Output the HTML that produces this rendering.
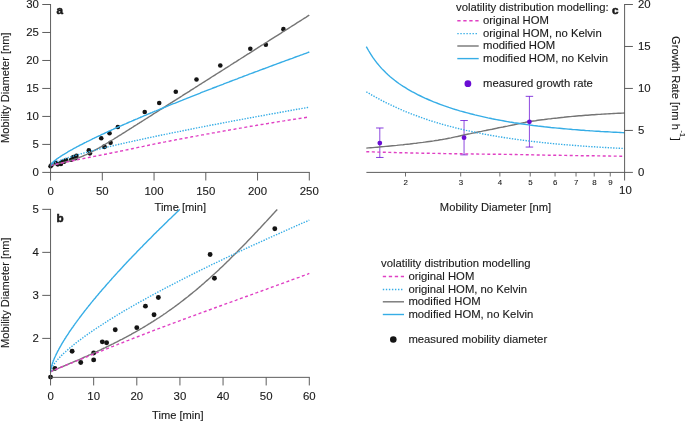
<!DOCTYPE html>
<html lang="en"><head><meta charset="utf-8"><title>Figure</title>
<style>html,body{margin:0;padding:0;background:#fff}svg{display:block}</style></head>
<body>
<svg width="685" height="421" viewBox="0 0 685 421">
<style>text{font-family:"Liberation Sans",sans-serif;fill:#1a1a1a}.t{font-size:11.4px;stroke:#1a1a1a;stroke-width:0.12px}.a{font-size:11.12px;stroke:#1a1a1a;stroke-width:0.12px}.l{font-size:11.3px;stroke:#1a1a1a;stroke-width:0.12px}.s{font-size:7.9px;stroke:#1a1a1a;stroke-width:0.1px}.b{font-size:11.7px;font-weight:bold;stroke:#1a1a1a;stroke-width:0.55px}</style>
<rect width="685" height="421" fill="#fff"/>
<circle cx="50.55" cy="166.24" r="2.3" fill="#141414"/>
<circle cx="51.58" cy="165.12" r="2.3" fill="#141414"/>
<circle cx="55.72" cy="162.89" r="2.3" fill="#141414"/>
<circle cx="57.79" cy="164.34" r="2.3" fill="#141414"/>
<circle cx="60.90" cy="163.11" r="2.3" fill="#141414"/>
<circle cx="60.90" cy="164.00" r="2.3" fill="#141414"/>
<circle cx="62.97" cy="161.65" r="2.3" fill="#141414"/>
<circle cx="64.00" cy="161.77" r="2.3" fill="#141414"/>
<circle cx="66.07" cy="160.09" r="2.3" fill="#141414"/>
<circle cx="71.25" cy="159.81" r="2.3" fill="#141414"/>
<circle cx="73.32" cy="157.01" r="2.3" fill="#141414"/>
<circle cx="75.39" cy="158.13" r="2.3" fill="#141414"/>
<circle cx="76.42" cy="155.89" r="2.3" fill="#141414"/>
<circle cx="88.84" cy="150.29" r="2.3" fill="#141414"/>
<circle cx="89.88" cy="153.37" r="2.3" fill="#141414"/>
<circle cx="104.37" cy="146.94" r="2.3" fill="#141414"/>
<circle cx="101.26" cy="138.26" r="2.3" fill="#141414"/>
<circle cx="109.54" cy="133.22" r="2.3" fill="#141414"/>
<circle cx="110.58" cy="142.74" r="2.3" fill="#141414"/>
<circle cx="104.37" cy="146.66" r="2.3" fill="#141414"/>
<circle cx="117.82" cy="127.07" r="2.3" fill="#141414"/>
<circle cx="144.73" cy="111.96" r="2.3" fill="#141414"/>
<circle cx="159.22" cy="103.00" r="2.3" fill="#141414"/>
<circle cx="175.78" cy="91.81" r="2.3" fill="#141414"/>
<circle cx="196.49" cy="79.50" r="2.3" fill="#141414"/>
<circle cx="220.29" cy="65.50" r="2.3" fill="#141414"/>
<circle cx="250.31" cy="48.71" r="2.3" fill="#141414"/>
<circle cx="265.83" cy="44.80" r="2.3" fill="#141414"/>
<circle cx="283.42" cy="29.13" r="2.3" fill="#141414"/>
<path d="M50.5,165.5 L50.6,165.5 L50.6,165.5 L50.6,165.5 L50.6,165.5 L50.6,165.5 L50.7,165.5 L50.7,165.5 L50.7,165.5 L50.8,165.5 L50.8,165.5 L50.9,165.4 L51.0,165.4 L51.0,165.4 L51.1,165.4 L51.2,165.4 L51.3,165.4 L51.4,165.3 L51.5,165.3 L51.6,165.3 L51.7,165.3 L51.8,165.2 L52.0,165.2 L52.1,165.2 L52.2,165.1 L52.4,165.1 L52.5,165.1 L52.7,165.0 L52.8,165.0 L53.0,165.0 L53.2,164.9 L53.3,164.9 L53.5,164.9 L53.7,164.8 L53.9,164.8 L54.1,164.7 L54.3,164.7 L54.5,164.6 L54.7,164.6 L55.0,164.5 L55.2,164.5 L55.4,164.4 L55.7,164.4 L55.9,164.3 L56.2,164.2 L56.4,164.2 L56.7,164.1 L56.9,164.1 L57.2,164.0 L57.5,163.9 L57.8,163.9 L58.1,163.8 L58.4,163.7 L58.7,163.6 L59.0,163.6 L59.3,163.5 L59.6,163.4 L60.0,163.3 L60.3,163.3 L60.6,163.2 L61.0,163.1 L61.3,163.0 L61.7,162.9 L62.0,162.8 L62.4,162.7 L62.8,162.6 L63.2,162.5 L63.5,162.4 L63.9,162.3 L64.3,162.2 L64.7,162.1 L65.1,162.0 L65.6,161.9 L66.0,161.8 L66.4,161.7 L66.8,161.6 L67.3,161.4 L67.7,161.3 L68.2,161.2 L68.6,161.1 L69.1,160.9 L69.5,160.8 L70.0,160.6 L70.5,160.5 L71.0,160.4 L71.5,160.2 L72.0,160.0 L72.5,159.9 L73.0,159.7 L73.5,159.6 L74.0,159.4 L74.5,159.2 L75.0,159.0 L75.6,158.9 L76.1,158.7 L76.7,158.5 L77.2,158.3 L77.8,158.1 L78.3,157.9 L78.9,157.6 L79.5,157.4 L80.1,157.2 L80.7,157.0 L81.3,156.7 L81.9,156.5 L82.5,156.2 L83.1,156.0 L83.7,155.7 L84.3,155.4 L84.9,155.1 L85.6,154.9 L86.2,154.6 L86.9,154.3 L87.5,154.0 L88.2,153.6 L88.8,153.3 L89.5,153.0 L90.2,152.7 L90.8,152.3 L91.5,152.0 L92.2,151.6 L92.9,151.2 L93.6,150.9 L94.3,150.5 L95.1,150.1 L95.8,149.7 L96.5,149.3 L97.2,148.9 L98.0,148.5 L98.7,148.1 L99.5,147.6 L100.2,147.2 L101.0,146.8 L101.7,146.3 L102.5,145.9 L103.3,145.4 L104.1,144.9 L104.9,144.5 L105.7,144.0 L106.5,143.5 L107.3,143.0 L108.1,142.5 L108.9,142.0 L109.7,141.5 L110.6,141.0 L111.4,140.5 L112.2,140.0 L113.1,139.5 L113.9,139.0 L114.8,138.4 L115.7,137.9 L116.5,137.3 L117.4,136.8 L118.3,136.2 L119.2,135.7 L120.1,135.1 L121.0,134.6 L121.9,134.0 L122.8,133.4 L123.7,132.8 L124.6,132.3 L125.6,131.7 L126.5,131.1 L127.4,130.5 L128.4,129.9 L129.3,129.3 L130.3,128.7 L131.3,128.1 L132.2,127.5 L133.2,126.9 L134.2,126.2 L135.2,125.6 L136.2,125.0 L137.2,124.4 L138.2,123.7 L139.2,123.1 L140.2,122.4 L141.2,121.8 L142.3,121.1 L143.3,120.5 L144.3,119.8 L145.4,119.2 L146.4,118.5 L147.5,117.8 L148.5,117.2 L149.6,116.5 L150.7,115.8 L151.8,115.1 L152.8,114.4 L153.9,113.7 L155.0,113.0 L156.1,112.3 L157.2,111.6 L158.4,110.9 L159.5,110.2 L160.6,109.5 L161.7,108.8 L162.9,108.1 L164.0,107.3 L165.2,106.6 L166.3,105.9 L167.5,105.1 L168.6,104.4 L169.8,103.7 L171.0,102.9 L172.2,102.2 L173.4,101.4 L174.6,100.6 L175.8,99.9 L177.0,99.1 L178.2,98.3 L179.4,97.6 L180.6,96.8 L181.9,96.0 L183.1,95.2 L184.3,94.4 L185.6,93.6 L186.8,92.9 L188.1,92.1 L189.4,91.3 L190.6,90.4 L191.9,89.6 L193.2,88.8 L194.5,88.0 L195.8,87.2 L197.1,86.4 L198.4,85.5 L199.7,84.7 L201.0,83.9 L202.3,83.0 L203.7,82.2 L205.0,81.3 L206.3,80.5 L207.7,79.6 L209.0,78.8 L210.4,77.9 L211.7,77.0 L213.1,76.2 L214.5,75.3 L215.9,74.4 L217.3,73.5 L218.7,72.7 L220.0,71.8 L221.5,70.9 L222.9,70.0 L224.3,69.1 L225.7,68.2 L227.1,67.3 L228.6,66.4 L230.0,65.5 L231.4,64.5 L232.9,63.6 L234.3,62.7 L235.8,61.8 L237.3,60.8 L238.7,59.9 L240.2,59.0 L241.7,58.0 L243.2,57.1 L244.7,56.1 L246.2,55.2 L247.7,54.2 L249.2,53.3 L250.7,52.3 L252.3,51.3 L253.8,50.4 L255.3,49.4 L256.9,48.4 L258.4,47.4 L260.0,46.4 L261.5,45.4 L263.1,44.5 L264.7,43.5 L266.3,42.5 L267.8,41.5 L269.4,40.4 L271.0,39.4 L272.6,38.4 L274.2,37.4 L275.8,36.4 L277.5,35.3 L279.1,34.3 L280.7,33.3 L282.3,32.2 L284.0,31.2 L285.6,30.2 L287.3,29.1 L288.9,28.1 L290.6,27.0 L292.3,25.9 L294.0,24.9 L295.6,23.8 L297.3,22.7 L299.0,21.7 L300.7,20.6 L302.4,19.5 L304.1,18.4 L305.9,17.3 L307.6,16.2 L309.3,15.1" stroke="#757575" stroke-width="1.4" fill="none"/>
<path d="M50.5,165.5 L50.6,165.5 L50.6,165.5 L50.6,165.5 L50.6,165.5 L50.6,165.5 L50.7,165.5 L50.7,165.5 L50.7,165.5 L50.8,165.5 L50.8,165.5 L50.9,165.4 L51.0,165.4 L51.0,165.4 L51.1,165.4 L51.2,165.4 L51.3,165.4 L51.4,165.3 L51.5,165.3 L51.6,165.3 L51.7,165.3 L51.8,165.2 L52.0,165.2 L52.1,165.2 L52.2,165.1 L52.4,165.1 L52.5,165.1 L52.7,165.0 L52.8,165.0 L53.0,165.0 L53.2,164.9 L53.3,164.9 L53.5,164.9 L53.7,164.8 L53.9,164.8 L54.1,164.7 L54.3,164.7 L54.5,164.6 L54.7,164.6 L55.0,164.5 L55.2,164.5 L55.4,164.4 L55.7,164.4 L55.9,164.3 L56.2,164.3 L56.4,164.2 L56.7,164.2 L56.9,164.1 L57.2,164.0 L57.5,164.0 L57.8,163.9 L58.1,163.9 L58.4,163.8 L58.7,163.7 L59.0,163.7 L59.3,163.6 L59.6,163.5 L60.0,163.4 L60.3,163.4 L60.6,163.3 L61.0,163.2 L61.3,163.1 L61.7,163.1 L62.0,163.0 L62.4,162.9 L62.8,162.8 L63.2,162.7 L63.5,162.7 L63.9,162.6 L64.3,162.5 L64.7,162.4 L65.1,162.3 L65.6,162.2 L66.0,162.1 L66.4,162.1 L66.8,162.0 L67.3,161.9 L67.7,161.8 L68.2,161.7 L68.6,161.6 L69.1,161.5 L69.5,161.4 L70.0,161.3 L70.5,161.2 L71.0,161.1 L71.5,161.0 L72.0,160.9 L72.5,160.8 L73.0,160.7 L73.5,160.6 L74.0,160.5 L74.5,160.3 L75.0,160.2 L75.6,160.1 L76.1,160.0 L76.7,159.9 L77.2,159.8 L77.8,159.7 L78.3,159.6 L78.9,159.4 L79.5,159.3 L80.1,159.2 L80.7,159.1 L81.3,159.0 L81.9,158.8 L82.5,158.7 L83.1,158.6 L83.7,158.5 L84.3,158.4 L84.9,158.2 L85.6,158.1 L86.2,158.0 L86.9,157.9 L87.5,157.7 L88.2,157.6 L88.8,157.5 L89.5,157.3 L90.2,157.2 L90.8,157.1 L91.5,156.9 L92.2,156.8 L92.9,156.7 L93.6,156.5 L94.3,156.4 L95.1,156.2 L95.8,156.1 L96.5,156.0 L97.2,155.8 L98.0,155.7 L98.7,155.5 L99.5,155.4 L100.2,155.2 L101.0,155.1 L101.7,154.9 L102.5,154.8 L103.3,154.6 L104.1,154.5 L104.9,154.3 L105.7,154.2 L106.5,154.0 L107.3,153.8 L108.1,153.7 L108.9,153.5 L109.7,153.3 L110.6,153.2 L111.4,153.0 L112.2,152.8 L113.1,152.7 L113.9,152.5 L114.8,152.3 L115.7,152.1 L116.5,152.0 L117.4,151.8 L118.3,151.6 L119.2,151.4 L120.1,151.2 L121.0,151.0 L121.9,150.9 L122.8,150.7 L123.7,150.5 L124.6,150.3 L125.6,150.1 L126.5,149.9 L127.4,149.7 L128.4,149.5 L129.3,149.3 L130.3,149.1 L131.3,148.9 L132.2,148.7 L133.2,148.5 L134.2,148.3 L135.2,148.1 L136.2,147.9 L137.2,147.6 L138.2,147.4 L139.2,147.2 L140.2,147.0 L141.2,146.8 L142.3,146.6 L143.3,146.4 L144.3,146.1 L145.4,145.9 L146.4,145.7 L147.5,145.5 L148.5,145.3 L149.6,145.0 L150.7,144.8 L151.8,144.6 L152.8,144.4 L153.9,144.1 L155.0,143.9 L156.1,143.7 L157.2,143.5 L158.4,143.2 L159.5,143.0 L160.6,142.8 L161.7,142.6 L162.9,142.3 L164.0,142.1 L165.2,141.9 L166.3,141.6 L167.5,141.4 L168.6,141.2 L169.8,141.0 L171.0,140.7 L172.2,140.5 L173.4,140.3 L174.6,140.1 L175.8,139.8 L177.0,139.6 L178.2,139.4 L179.4,139.2 L180.6,138.9 L181.9,138.7 L183.1,138.5 L184.3,138.2 L185.6,138.0 L186.8,137.8 L188.1,137.5 L189.4,137.3 L190.6,137.1 L191.9,136.8 L193.2,136.6 L194.5,136.3 L195.8,136.1 L197.1,135.9 L198.4,135.6 L199.7,135.4 L201.0,135.1 L202.3,134.9 L203.7,134.7 L205.0,134.4 L206.3,134.2 L207.7,133.9 L209.0,133.7 L210.4,133.4 L211.7,133.2 L213.1,132.9 L214.5,132.7 L215.9,132.4 L217.3,132.2 L218.7,131.9 L220.0,131.7 L221.5,131.4 L222.9,131.2 L224.3,130.9 L225.7,130.7 L227.1,130.4 L228.6,130.2 L230.0,129.9 L231.4,129.7 L232.9,129.4 L234.3,129.2 L235.8,128.9 L237.3,128.6 L238.7,128.4 L240.2,128.1 L241.7,127.9 L243.2,127.6 L244.7,127.4 L246.2,127.1 L247.7,126.8 L249.2,126.6 L250.7,126.3 L252.3,126.1 L253.8,125.8 L255.3,125.6 L256.9,125.3 L258.4,125.0 L260.0,124.8 L261.5,124.5 L263.1,124.3 L264.7,124.0 L266.3,123.7 L267.8,123.5 L269.4,123.2 L271.0,123.0 L272.6,122.7 L274.2,122.4 L275.8,122.2 L277.5,121.9 L279.1,121.6 L280.7,121.4 L282.3,121.1 L284.0,120.9 L285.6,120.6 L287.3,120.3 L288.9,120.1 L290.6,119.8 L292.3,119.6 L294.0,119.3 L295.6,119.1 L297.3,118.8 L299.0,118.5 L300.7,118.3 L302.4,118.0 L304.1,117.8 L305.9,117.5 L307.6,117.2 L309.3,117.0" stroke="#e040c4" stroke-width="1.4" stroke-dasharray="3 2.5" fill="none"/>
<path d="M50.5,165.5 L50.6,165.5 L50.6,165.4 L50.6,165.4 L50.6,165.4 L50.6,165.3 L50.7,165.3 L50.7,165.2 L50.7,165.2 L50.8,165.1 L50.8,165.0 L50.9,165.0 L51.0,164.9 L51.0,164.8 L51.1,164.8 L51.2,164.7 L51.3,164.6 L51.4,164.6 L51.5,164.5 L51.6,164.4 L51.7,164.3 L51.8,164.2 L52.0,164.2 L52.1,164.1 L52.2,164.0 L52.4,163.9 L52.5,163.8 L52.7,163.7 L52.8,163.6 L53.0,163.5 L53.2,163.4 L53.3,163.4 L53.5,163.3 L53.7,163.2 L53.9,163.1 L54.1,163.0 L54.3,162.9 L54.5,162.8 L54.7,162.7 L55.0,162.6 L55.2,162.4 L55.4,162.3 L55.7,162.2 L55.9,162.1 L56.2,162.0 L56.4,161.9 L56.7,161.8 L56.9,161.7 L57.2,161.6 L57.5,161.4 L57.8,161.3 L58.1,161.2 L58.4,161.1 L58.7,161.0 L59.0,160.9 L59.3,160.7 L59.6,160.6 L60.0,160.5 L60.3,160.4 L60.6,160.2 L61.0,160.1 L61.3,160.0 L61.7,159.8 L62.0,159.7 L62.4,159.6 L62.8,159.5 L63.2,159.3 L63.5,159.2 L63.9,159.1 L64.3,158.9 L64.7,158.8 L65.1,158.6 L65.6,158.5 L66.0,158.4 L66.4,158.2 L66.8,158.1 L67.3,157.9 L67.7,157.8 L68.2,157.7 L68.6,157.5 L69.1,157.4 L69.5,157.2 L70.0,157.1 L70.5,156.9 L71.0,156.8 L71.5,156.6 L72.0,156.5 L72.5,156.3 L73.0,156.2 L73.5,156.0 L74.0,155.9 L74.5,155.7 L75.0,155.6 L75.6,155.4 L76.1,155.2 L76.7,155.1 L77.2,154.9 L77.8,154.8 L78.3,154.6 L78.9,154.4 L79.5,154.3 L80.1,154.1 L80.7,153.9 L81.3,153.8 L81.9,153.6 L82.5,153.4 L83.1,153.3 L83.7,153.1 L84.3,152.9 L84.9,152.8 L85.6,152.6 L86.2,152.4 L86.9,152.3 L87.5,152.1 L88.2,151.9 L88.8,151.7 L89.5,151.6 L90.2,151.4 L90.8,151.2 L91.5,151.0 L92.2,150.8 L92.9,150.7 L93.6,150.5 L94.3,150.3 L95.1,150.1 L95.8,149.9 L96.5,149.8 L97.2,149.6 L98.0,149.4 L98.7,149.2 L99.5,149.0 L100.2,148.8 L101.0,148.6 L101.7,148.4 L102.5,148.3 L103.3,148.1 L104.1,147.9 L104.9,147.7 L105.7,147.5 L106.5,147.3 L107.3,147.1 L108.1,146.9 L108.9,146.7 L109.7,146.5 L110.6,146.3 L111.4,146.1 L112.2,145.9 L113.1,145.7 L113.9,145.5 L114.8,145.3 L115.7,145.1 L116.5,144.9 L117.4,144.7 L118.3,144.5 L119.2,144.3 L120.1,144.1 L121.0,143.9 L121.9,143.7 L122.8,143.5 L123.7,143.3 L124.6,143.1 L125.6,142.8 L126.5,142.6 L127.4,142.4 L128.4,142.2 L129.3,142.0 L130.3,141.8 L131.3,141.6 L132.2,141.4 L133.2,141.1 L134.2,140.9 L135.2,140.7 L136.2,140.5 L137.2,140.3 L138.2,140.0 L139.2,139.8 L140.2,139.6 L141.2,139.4 L142.3,139.2 L143.3,138.9 L144.3,138.7 L145.4,138.5 L146.4,138.3 L147.5,138.0 L148.5,137.8 L149.6,137.6 L150.7,137.4 L151.8,137.1 L152.8,136.9 L153.9,136.7 L155.0,136.4 L156.1,136.2 L157.2,136.0 L158.4,135.7 L159.5,135.5 L160.6,135.3 L161.7,135.0 L162.9,134.8 L164.0,134.6 L165.2,134.3 L166.3,134.1 L167.5,133.9 L168.6,133.6 L169.8,133.4 L171.0,133.1 L172.2,132.9 L173.4,132.6 L174.6,132.4 L175.8,132.2 L177.0,131.9 L178.2,131.7 L179.4,131.4 L180.6,131.2 L181.9,130.9 L183.1,130.7 L184.3,130.4 L185.6,130.2 L186.8,129.9 L188.1,129.7 L189.4,129.4 L190.6,129.2 L191.9,128.9 L193.2,128.7 L194.5,128.4 L195.8,128.2 L197.1,127.9 L198.4,127.7 L199.7,127.4 L201.0,127.2 L202.3,126.9 L203.7,126.6 L205.0,126.4 L206.3,126.1 L207.7,125.9 L209.0,125.6 L210.4,125.3 L211.7,125.1 L213.1,124.8 L214.5,124.5 L215.9,124.3 L217.3,124.0 L218.7,123.7 L220.0,123.5 L221.5,123.2 L222.9,122.9 L224.3,122.7 L225.7,122.4 L227.1,122.1 L228.6,121.9 L230.0,121.6 L231.4,121.3 L232.9,121.1 L234.3,120.8 L235.8,120.5 L237.3,120.2 L238.7,120.0 L240.2,119.7 L241.7,119.4 L243.2,119.1 L244.7,118.9 L246.2,118.6 L247.7,118.3 L249.2,118.0 L250.7,117.7 L252.3,117.5 L253.8,117.2 L255.3,116.9 L256.9,116.6 L258.4,116.3 L260.0,116.0 L261.5,115.8 L263.1,115.5 L264.7,115.2 L266.3,114.9 L267.8,114.6 L269.4,114.3 L271.0,114.0 L272.6,113.7 L274.2,113.5 L275.8,113.2 L277.5,112.9 L279.1,112.6 L280.7,112.3 L282.3,112.0 L284.0,111.7 L285.6,111.4 L287.3,111.1 L288.9,110.8 L290.6,110.5 L292.3,110.2 L294.0,109.9 L295.6,109.6 L297.3,109.3 L299.0,109.0 L300.7,108.7 L302.4,108.4 L304.1,108.1 L305.9,107.8 L307.6,107.5 L309.3,107.2" stroke="#36ade6" stroke-width="1.4" stroke-dasharray="1.4 1.35" fill="none"/>
<path d="M50.5,165.5 L50.6,165.4 L50.6,165.4 L50.6,165.3 L50.6,165.3 L50.6,165.2 L50.7,165.1 L50.7,165.0 L50.7,164.9 L50.8,164.8 L50.8,164.7 L50.9,164.6 L51.0,164.5 L51.0,164.4 L51.1,164.3 L51.2,164.2 L51.3,164.0 L51.4,163.9 L51.5,163.8 L51.6,163.6 L51.7,163.5 L51.8,163.4 L52.0,163.2 L52.1,163.1 L52.2,162.9 L52.4,162.8 L52.5,162.6 L52.7,162.5 L52.8,162.3 L53.0,162.2 L53.2,162.0 L53.3,161.9 L53.5,161.7 L53.7,161.5 L53.9,161.3 L54.1,161.2 L54.3,161.0 L54.5,160.8 L54.7,160.6 L55.0,160.5 L55.2,160.3 L55.4,160.1 L55.7,159.9 L55.9,159.7 L56.2,159.5 L56.4,159.3 L56.7,159.1 L56.9,158.9 L57.2,158.7 L57.5,158.5 L57.8,158.3 L58.1,158.1 L58.4,157.9 L58.7,157.7 L59.0,157.5 L59.3,157.3 L59.6,157.0 L60.0,156.8 L60.3,156.6 L60.6,156.4 L61.0,156.1 L61.3,155.9 L61.7,155.7 L62.0,155.5 L62.4,155.2 L62.8,155.0 L63.2,154.7 L63.5,154.5 L63.9,154.3 L64.3,154.0 L64.7,153.8 L65.1,153.5 L65.6,153.3 L66.0,153.0 L66.4,152.8 L66.8,152.5 L67.3,152.3 L67.7,152.0 L68.2,151.7 L68.6,151.5 L69.1,151.2 L69.5,150.9 L70.0,150.7 L70.5,150.4 L71.0,150.1 L71.5,149.8 L72.0,149.6 L72.5,149.3 L73.0,149.0 L73.5,148.7 L74.0,148.4 L74.5,148.2 L75.0,147.9 L75.6,147.6 L76.1,147.3 L76.7,147.0 L77.2,146.7 L77.8,146.4 L78.3,146.1 L78.9,145.8 L79.5,145.5 L80.1,145.2 L80.7,144.9 L81.3,144.6 L81.9,144.3 L82.5,144.0 L83.1,143.7 L83.7,143.3 L84.3,143.0 L84.9,142.7 L85.6,142.4 L86.2,142.1 L86.9,141.7 L87.5,141.4 L88.2,141.1 L88.8,140.8 L89.5,140.4 L90.2,140.1 L90.8,139.8 L91.5,139.4 L92.2,139.1 L92.9,138.7 L93.6,138.4 L94.3,138.1 L95.1,137.7 L95.8,137.4 L96.5,137.0 L97.2,136.7 L98.0,136.3 L98.7,136.0 L99.5,135.6 L100.2,135.3 L101.0,134.9 L101.7,134.5 L102.5,134.2 L103.3,133.8 L104.1,133.5 L104.9,133.1 L105.7,132.7 L106.5,132.3 L107.3,132.0 L108.1,131.6 L108.9,131.2 L109.7,130.8 L110.6,130.5 L111.4,130.1 L112.2,129.7 L113.1,129.3 L113.9,128.9 L114.8,128.5 L115.7,128.2 L116.5,127.8 L117.4,127.4 L118.3,127.0 L119.2,126.6 L120.1,126.2 L121.0,125.8 L121.9,125.4 L122.8,125.0 L123.7,124.6 L124.6,124.2 L125.6,123.8 L126.5,123.4 L127.4,123.0 L128.4,122.5 L129.3,122.1 L130.3,121.7 L131.3,121.3 L132.2,120.9 L133.2,120.5 L134.2,120.0 L135.2,119.6 L136.2,119.2 L137.2,118.8 L138.2,118.3 L139.2,117.9 L140.2,117.5 L141.2,117.0 L142.3,116.6 L143.3,116.2 L144.3,115.7 L145.4,115.3 L146.4,114.8 L147.5,114.4 L148.5,113.9 L149.6,113.5 L150.7,113.0 L151.8,112.6 L152.8,112.1 L153.9,111.7 L155.0,111.2 L156.1,110.8 L157.2,110.3 L158.4,109.9 L159.5,109.4 L160.6,108.9 L161.7,108.5 L162.9,108.0 L164.0,107.5 L165.2,107.1 L166.3,106.6 L167.5,106.1 L168.6,105.6 L169.8,105.2 L171.0,104.7 L172.2,104.2 L173.4,103.7 L174.6,103.3 L175.8,102.8 L177.0,102.3 L178.2,101.8 L179.4,101.3 L180.6,100.8 L181.9,100.3 L183.1,99.8 L184.3,99.3 L185.6,98.8 L186.8,98.3 L188.1,97.8 L189.4,97.3 L190.6,96.8 L191.9,96.3 L193.2,95.8 L194.5,95.3 L195.8,94.8 L197.1,94.3 L198.4,93.8 L199.7,93.3 L201.0,92.7 L202.3,92.2 L203.7,91.7 L205.0,91.2 L206.3,90.7 L207.7,90.1 L209.0,89.6 L210.4,89.1 L211.7,88.6 L213.1,88.0 L214.5,87.5 L215.9,87.0 L217.3,86.4 L218.7,85.9 L220.0,85.3 L221.5,84.8 L222.9,84.3 L224.3,83.7 L225.7,83.2 L227.1,82.6 L228.6,82.1 L230.0,81.5 L231.4,81.0 L232.9,80.4 L234.3,79.9 L235.8,79.3 L237.3,78.8 L238.7,78.2 L240.2,77.6 L241.7,77.1 L243.2,76.5 L244.7,75.9 L246.2,75.4 L247.7,74.8 L249.2,74.2 L250.7,73.7 L252.3,73.1 L253.8,72.5 L255.3,71.9 L256.9,71.4 L258.4,70.8 L260.0,70.2 L261.5,69.6 L263.1,69.0 L264.7,68.5 L266.3,67.9 L267.8,67.3 L269.4,66.7 L271.0,66.1 L272.6,65.5 L274.2,64.9 L275.8,64.3 L277.5,63.7 L279.1,63.1 L280.7,62.5 L282.3,61.9 L284.0,61.3 L285.6,60.7 L287.3,60.1 L288.9,59.5 L290.6,58.9 L292.3,58.3 L294.0,57.6 L295.6,57.0 L297.3,56.4 L299.0,55.8 L300.7,55.2 L302.4,54.6 L304.1,53.9 L305.9,53.3 L307.6,52.7 L309.3,52.0" stroke="#36ade6" stroke-width="1.4" fill="none"/>
<circle cx="50.55" cy="377.11" r="2.45" fill="#141414"/>
<circle cx="54.86" cy="368.51" r="2.45" fill="#141414"/>
<circle cx="72.11" cy="351.30" r="2.45" fill="#141414"/>
<circle cx="80.74" cy="362.49" r="2.45" fill="#141414"/>
<circle cx="93.67" cy="353.03" r="2.45" fill="#141414"/>
<circle cx="93.67" cy="359.91" r="2.45" fill="#141414"/>
<circle cx="102.30" cy="341.84" r="2.45" fill="#141414"/>
<circle cx="106.61" cy="342.70" r="2.45" fill="#141414"/>
<circle cx="115.24" cy="329.80" r="2.45" fill="#141414"/>
<circle cx="136.80" cy="327.65" r="2.45" fill="#141414"/>
<circle cx="145.43" cy="306.14" r="2.45" fill="#141414"/>
<circle cx="154.05" cy="314.74" r="2.45" fill="#141414"/>
<circle cx="158.36" cy="297.53" r="2.45" fill="#141414"/>
<circle cx="210.11" cy="254.52" r="2.45" fill="#141414"/>
<circle cx="214.43" cy="278.18" r="2.45" fill="#141414"/>
<circle cx="274.80" cy="228.71" r="2.45" fill="#141414"/>
<path d="M50.5,371.5 L50.6,371.5 L50.6,371.5 L50.6,371.5 L50.6,371.5 L50.6,371.5 L50.7,371.5 L50.7,371.5 L50.7,371.4 L50.8,371.4 L50.8,371.4 L50.9,371.4 L51.0,371.4 L51.0,371.3 L51.1,371.3 L51.2,371.3 L51.3,371.2 L51.4,371.2 L51.5,371.1 L51.6,371.1 L51.7,371.0 L51.8,371.0 L52.0,370.9 L52.1,370.9 L52.2,370.8 L52.4,370.8 L52.5,370.7 L52.7,370.7 L52.8,370.6 L53.0,370.5 L53.2,370.5 L53.3,370.4 L53.5,370.3 L53.7,370.2 L53.9,370.1 L54.1,370.1 L54.3,370.0 L54.5,369.9 L54.7,369.8 L55.0,369.7 L55.2,369.6 L55.4,369.5 L55.7,369.4 L55.9,369.3 L56.2,369.2 L56.4,369.1 L56.7,369.0 L56.9,368.9 L57.2,368.8 L57.5,368.7 L57.8,368.5 L58.1,368.4 L58.4,368.3 L58.7,368.2 L59.0,368.0 L59.3,367.9 L59.6,367.8 L60.0,367.6 L60.3,367.5 L60.6,367.4 L61.0,367.2 L61.3,367.1 L61.7,366.9 L62.0,366.8 L62.4,366.6 L62.8,366.5 L63.2,366.3 L63.5,366.1 L63.9,366.0 L64.3,365.8 L64.7,365.6 L65.1,365.5 L65.6,365.3 L66.0,365.1 L66.4,364.9 L66.8,364.8 L67.3,364.6 L67.7,364.4 L68.2,364.2 L68.6,364.0 L69.1,363.8 L69.5,363.6 L70.0,363.4 L70.5,363.2 L71.0,363.0 L71.5,362.8 L72.0,362.6 L72.5,362.4 L73.0,362.2 L73.5,361.9 L74.0,361.7 L74.5,361.5 L75.0,361.3 L75.6,361.0 L76.1,360.8 L76.7,360.6 L77.2,360.3 L77.8,360.1 L78.3,359.8 L78.9,359.6 L79.5,359.3 L80.1,359.1 L80.7,358.8 L81.3,358.6 L81.9,358.3 L82.5,358.0 L83.1,357.8 L83.7,357.5 L84.3,357.2 L84.9,356.9 L85.6,356.7 L86.2,356.4 L86.9,356.1 L87.5,355.8 L88.2,355.5 L88.8,355.2 L89.5,354.9 L90.2,354.6 L90.8,354.3 L91.5,354.0 L92.2,353.7 L92.9,353.3 L93.6,353.0 L94.3,352.7 L95.1,352.4 L95.8,352.0 L96.5,351.7 L97.2,351.4 L98.0,351.0 L98.7,350.7 L99.5,350.3 L100.2,350.0 L101.0,349.6 L101.7,349.2 L102.5,348.9 L103.3,348.5 L104.1,348.1 L104.9,347.8 L105.7,347.4 L106.5,347.0 L107.3,346.6 L108.1,346.2 L108.9,345.8 L109.7,345.4 L110.6,345.0 L111.4,344.6 L112.2,344.2 L113.1,343.8 L113.9,343.3 L114.8,342.9 L115.7,342.5 L116.5,342.0 L117.4,341.6 L118.3,341.1 L119.2,340.7 L120.1,340.2 L121.0,339.7 L121.9,339.3 L122.8,338.8 L123.7,338.3 L124.6,337.8 L125.6,337.3 L126.5,336.8 L127.4,336.3 L128.4,335.8 L129.3,335.3 L130.3,334.8 L131.3,334.3 L132.2,333.7 L133.2,333.2 L134.2,332.6 L135.2,332.1 L136.2,331.5 L137.2,331.0 L138.2,330.4 L139.2,329.8 L140.2,329.2 L141.2,328.6 L142.3,328.0 L143.3,327.4 L144.3,326.8 L145.4,326.2 L146.4,325.5 L147.5,324.9 L148.5,324.2 L149.6,323.6 L150.7,322.9 L151.8,322.2 L152.8,321.6 L153.9,320.9 L155.0,320.2 L156.1,319.5 L157.2,318.7 L158.4,318.0 L159.5,317.3 L160.6,316.5 L161.7,315.8 L162.9,315.0 L164.0,314.2 L165.2,313.5 L166.3,312.7 L167.5,311.8 L168.6,311.0 L169.8,310.2 L171.0,309.4 L172.2,308.5 L173.4,307.7 L174.6,306.8 L175.8,305.9 L177.0,305.0 L178.2,304.1 L179.4,303.2 L180.6,302.3 L181.9,301.3 L183.1,300.4 L184.3,299.4 L185.6,298.4 L186.8,297.5 L188.1,296.5 L189.4,295.4 L190.6,294.4 L191.9,293.4 L193.2,292.3 L194.5,291.3 L195.8,290.2 L197.1,289.1 L198.4,288.0 L199.7,286.9 L201.0,285.8 L202.3,284.6 L203.7,283.5 L205.0,282.3 L206.3,281.1 L207.7,279.9 L209.0,278.7 L210.4,277.5 L211.7,276.3 L213.1,275.0 L214.5,273.8 L215.9,272.5 L217.3,271.2 L218.7,269.9 L220.0,268.6 L221.5,267.2 L222.9,265.9 L224.3,264.6 L225.7,263.2 L227.1,261.8 L228.6,260.4 L230.0,259.0 L231.4,257.6 L232.9,256.1 L234.3,254.7 L235.8,253.2 L237.3,251.8 L238.7,250.3 L240.2,248.8 L241.7,247.3 L243.2,245.7 L244.7,244.2 L246.2,242.7 L247.7,241.1 L249.2,239.5 L250.7,237.9 L252.3,236.3 L253.8,234.7 L255.3,233.1 L256.9,231.5 L258.4,229.8 L260.0,228.2 L261.5,226.5 L263.1,224.8 L264.7,223.1 L266.3,221.4 L267.8,219.7 L269.4,218.0 L271.0,216.3 L272.6,214.5 L274.2,212.8 L275.8,211.0 L277.3,209.4" stroke="#757575" stroke-width="1.4" fill="none"/>
<path d="M50.5,371.5 L50.6,371.5 L50.6,371.5 L50.6,371.5 L50.6,371.5 L50.6,371.5 L50.7,371.5 L50.7,371.5 L50.7,371.4 L50.8,371.4 L50.8,371.4 L50.9,371.4 L51.0,371.4 L51.0,371.3 L51.1,371.3 L51.2,371.3 L51.3,371.2 L51.4,371.2 L51.5,371.1 L51.6,371.1 L51.7,371.0 L51.8,371.0 L52.0,370.9 L52.1,370.9 L52.2,370.8 L52.4,370.8 L52.5,370.7 L52.7,370.7 L52.8,370.6 L53.0,370.5 L53.2,370.5 L53.3,370.4 L53.5,370.3 L53.7,370.2 L53.9,370.2 L54.1,370.1 L54.3,370.0 L54.5,369.9 L54.7,369.8 L55.0,369.7 L55.2,369.6 L55.4,369.5 L55.7,369.4 L55.9,369.3 L56.2,369.2 L56.4,369.1 L56.7,369.0 L56.9,368.9 L57.2,368.8 L57.5,368.7 L57.8,368.6 L58.1,368.4 L58.4,368.3 L58.7,368.2 L59.0,368.1 L59.3,367.9 L59.6,367.8 L60.0,367.7 L60.3,367.5 L60.6,367.4 L61.0,367.3 L61.3,367.1 L61.7,367.0 L62.0,366.8 L62.4,366.7 L62.8,366.5 L63.2,366.4 L63.5,366.2 L63.9,366.0 L64.3,365.9 L64.7,365.7 L65.1,365.6 L65.6,365.4 L66.0,365.2 L66.4,365.0 L66.8,364.9 L67.3,364.7 L67.7,364.5 L68.2,364.3 L68.6,364.1 L69.1,364.0 L69.5,363.8 L70.0,363.6 L70.5,363.4 L71.0,363.2 L71.5,363.0 L72.0,362.8 L72.5,362.6 L73.0,362.4 L73.5,362.2 L74.0,362.0 L74.5,361.7 L75.0,361.5 L75.6,361.3 L76.1,361.1 L76.7,360.9 L77.2,360.6 L77.8,360.4 L78.3,360.2 L78.9,360.0 L79.5,359.7 L80.1,359.5 L80.7,359.3 L81.3,359.0 L81.9,358.8 L82.5,358.5 L83.1,358.3 L83.7,358.0 L84.3,357.8 L84.9,357.5 L85.6,357.3 L86.2,357.0 L86.9,356.8 L87.5,356.5 L88.2,356.2 L88.8,356.0 L89.5,355.7 L90.2,355.4 L90.8,355.1 L91.5,354.9 L92.2,354.6 L92.9,354.3 L93.6,354.0 L94.3,353.7 L95.1,353.5 L95.8,353.2 L96.5,352.9 L97.2,352.6 L98.0,352.3 L98.7,352.0 L99.5,351.7 L100.2,351.4 L101.0,351.1 L101.7,350.8 L102.5,350.5 L103.3,350.2 L104.1,349.9 L104.9,349.5 L105.7,349.2 L106.5,348.9 L107.3,348.6 L108.1,348.3 L108.9,347.9 L109.7,347.6 L110.6,347.3 L111.4,346.9 L112.2,346.6 L113.1,346.3 L113.9,345.9 L114.8,345.6 L115.7,345.3 L116.5,344.9 L117.4,344.6 L118.3,344.2 L119.2,343.9 L120.1,343.5 L121.0,343.2 L121.9,342.8 L122.8,342.5 L123.7,342.1 L124.6,341.7 L125.6,341.4 L126.5,341.0 L127.4,340.6 L128.4,340.3 L129.3,339.9 L130.3,339.5 L131.3,339.1 L132.2,338.8 L133.2,338.4 L134.2,338.0 L135.2,337.6 L136.2,337.2 L137.2,336.9 L138.2,336.5 L139.2,336.1 L140.2,335.7 L141.2,335.3 L142.3,334.9 L143.3,334.5 L144.3,334.1 L145.4,333.7 L146.4,333.3 L147.5,332.9 L148.5,332.5 L149.6,332.1 L150.7,331.7 L151.8,331.3 L152.8,330.8 L153.9,330.4 L155.0,330.0 L156.1,329.6 L157.2,329.2 L158.4,328.7 L159.5,328.3 L160.6,327.9 L161.7,327.5 L162.9,327.0 L164.0,326.6 L165.2,326.2 L166.3,325.7 L167.5,325.3 L168.6,324.9 L169.8,324.4 L171.0,324.0 L172.2,323.6 L173.4,323.1 L174.6,322.7 L175.8,322.2 L177.0,321.8 L178.2,321.3 L179.4,320.9 L180.6,320.4 L181.9,320.0 L183.1,319.5 L184.3,319.0 L185.6,318.6 L186.8,318.1 L188.1,317.7 L189.4,317.2 L190.6,316.7 L191.9,316.3 L193.2,315.8 L194.5,315.3 L195.8,314.8 L197.1,314.4 L198.4,313.9 L199.7,313.4 L201.0,312.9 L202.3,312.4 L203.7,311.9 L205.0,311.5 L206.3,311.0 L207.7,310.5 L209.0,310.0 L210.4,309.5 L211.7,309.0 L213.1,308.5 L214.5,308.0 L215.9,307.5 L217.3,307.0 L218.7,306.5 L220.0,306.0 L221.5,305.5 L222.9,305.0 L224.3,304.5 L225.7,303.9 L227.1,303.4 L228.6,302.9 L230.0,302.4 L231.4,301.9 L232.9,301.3 L234.3,300.8 L235.8,300.3 L237.3,299.7 L238.7,299.2 L240.2,298.7 L241.7,298.1 L243.2,297.6 L244.7,297.1 L246.2,296.5 L247.7,296.0 L249.2,295.4 L250.7,294.9 L252.3,294.3 L253.8,293.8 L255.3,293.2 L256.9,292.7 L258.4,292.1 L260.0,291.5 L261.5,291.0 L263.1,290.4 L264.7,289.8 L266.3,289.3 L267.8,288.7 L269.4,288.1 L271.0,287.5 L272.6,286.9 L274.2,286.4 L275.8,285.8 L277.5,285.2 L279.1,284.6 L280.7,284.0 L282.3,283.4 L284.0,282.8 L285.6,282.2 L287.3,281.6 L288.9,281.0 L290.6,280.4 L292.3,279.7 L294.0,279.1 L295.6,278.5 L297.3,277.9 L299.0,277.3 L300.7,276.6 L302.4,276.0 L304.1,275.4 L305.9,274.7 L307.6,274.1 L309.3,273.4" stroke="#e040c4" stroke-width="1.4" stroke-dasharray="3 2.5" fill="none"/>
<path d="M50.5,371.3 L50.6,371.2 L50.6,371.1 L50.6,371.0 L50.6,370.9 L50.6,370.8 L50.7,370.6 L50.7,370.5 L50.7,370.3 L50.8,370.1 L50.8,370.0 L50.9,369.8 L51.0,369.6 L51.0,369.4 L51.1,369.2 L51.2,369.0 L51.3,368.8 L51.4,368.6 L51.5,368.3 L51.6,368.1 L51.7,367.9 L51.8,367.7 L52.0,367.4 L52.1,367.2 L52.2,366.9 L52.4,366.7 L52.5,366.4 L52.7,366.2 L52.8,365.9 L53.0,365.7 L53.2,365.4 L53.3,365.1 L53.5,364.9 L53.7,364.6 L53.9,364.3 L54.1,364.0 L54.3,363.7 L54.5,363.5 L54.7,363.2 L55.0,362.9 L55.2,362.6 L55.4,362.3 L55.7,362.0 L55.9,361.7 L56.2,361.4 L56.4,361.1 L56.7,360.7 L56.9,360.4 L57.2,360.1 L57.5,359.8 L57.8,359.5 L58.1,359.1 L58.4,358.8 L58.7,358.5 L59.0,358.1 L59.3,357.8 L59.6,357.5 L60.0,357.1 L60.3,356.8 L60.6,356.4 L61.0,356.1 L61.3,355.7 L61.7,355.4 L62.0,355.0 L62.4,354.6 L62.8,354.3 L63.2,353.9 L63.5,353.6 L63.9,353.2 L64.3,352.8 L64.7,352.4 L65.1,352.1 L65.6,351.7 L66.0,351.3 L66.4,350.9 L66.8,350.5 L67.3,350.2 L67.7,349.8 L68.2,349.4 L68.6,349.0 L69.1,348.6 L69.5,348.2 L70.0,347.8 L70.5,347.4 L71.0,347.0 L71.5,346.6 L72.0,346.2 L72.5,345.8 L73.0,345.3 L73.5,344.9 L74.0,344.5 L74.5,344.1 L75.0,343.7 L75.6,343.3 L76.1,342.8 L76.7,342.4 L77.2,342.0 L77.8,341.5 L78.3,341.1 L78.9,340.7 L79.5,340.2 L80.1,339.8 L80.7,339.4 L81.3,338.9 L81.9,338.5 L82.5,338.0 L83.1,337.6 L83.7,337.1 L84.3,336.7 L84.9,336.2 L85.6,335.8 L86.2,335.3 L86.9,334.9 L87.5,334.4 L88.2,333.9 L88.8,333.5 L89.5,333.0 L90.2,332.5 L90.8,332.1 L91.5,331.6 L92.2,331.1 L92.9,330.6 L93.6,330.2 L94.3,329.7 L95.1,329.2 L95.8,328.7 L96.5,328.2 L97.2,327.7 L98.0,327.3 L98.7,326.8 L99.5,326.3 L100.2,325.8 L101.0,325.3 L101.7,324.8 L102.5,324.3 L103.3,323.8 L104.1,323.3 L104.9,322.8 L105.7,322.3 L106.5,321.8 L107.3,321.3 L108.1,320.7 L108.9,320.2 L109.7,319.7 L110.6,319.2 L111.4,318.7 L112.2,318.2 L113.1,317.6 L113.9,317.1 L114.8,316.6 L115.7,316.1 L116.5,315.5 L117.4,315.0 L118.3,314.5 L119.2,313.9 L120.1,313.4 L121.0,312.9 L121.9,312.3 L122.8,311.8 L123.7,311.2 L124.6,310.7 L125.6,310.2 L126.5,309.6 L127.4,309.1 L128.4,308.5 L129.3,308.0 L130.3,307.4 L131.3,306.8 L132.2,306.3 L133.2,305.7 L134.2,305.2 L135.2,304.6 L136.2,304.0 L137.2,303.5 L138.2,302.9 L139.2,302.3 L140.2,301.8 L141.2,301.2 L142.3,300.6 L143.3,300.1 L144.3,299.5 L145.4,298.9 L146.4,298.3 L147.5,297.7 L148.5,297.2 L149.6,296.6 L150.7,296.0 L151.8,295.4 L152.8,294.8 L153.9,294.2 L155.0,293.6 L156.1,293.0 L157.2,292.4 L158.4,291.8 L159.5,291.3 L160.6,290.7 L161.7,290.0 L162.9,289.4 L164.0,288.8 L165.2,288.2 L166.3,287.6 L167.5,287.0 L168.6,286.4 L169.8,285.8 L171.0,285.2 L172.2,284.6 L173.4,284.0 L174.6,283.3 L175.8,282.7 L177.0,282.1 L178.2,281.5 L179.4,280.8 L180.6,280.2 L181.9,279.6 L183.1,279.0 L184.3,278.3 L185.6,277.7 L186.8,277.1 L188.1,276.4 L189.4,275.8 L190.6,275.2 L191.9,274.5 L193.2,273.9 L194.5,273.2 L195.8,272.6 L197.1,271.9 L198.4,271.3 L199.7,270.6 L201.0,270.0 L202.3,269.3 L203.7,268.7 L205.0,268.0 L206.3,267.4 L207.7,266.7 L209.0,266.1 L210.4,265.4 L211.7,264.7 L213.1,264.1 L214.5,263.4 L215.9,262.7 L217.3,262.1 L218.7,261.4 L220.0,260.7 L221.5,260.1 L222.9,259.4 L224.3,258.7 L225.7,258.0 L227.1,257.4 L228.6,256.7 L230.0,256.0 L231.4,255.3 L232.9,254.6 L234.3,254.0 L235.8,253.3 L237.3,252.6 L238.7,251.9 L240.2,251.2 L241.7,250.5 L243.2,249.8 L244.7,249.1 L246.2,248.4 L247.7,247.7 L249.2,247.0 L250.7,246.3 L252.3,245.6 L253.8,244.9 L255.3,244.2 L256.9,243.5 L258.4,242.8 L260.0,242.1 L261.5,241.4 L263.1,240.7 L264.7,240.0 L266.3,239.2 L267.8,238.5 L269.4,237.8 L271.0,237.1 L272.6,236.4 L274.2,235.6 L275.8,234.9 L277.5,234.2 L279.1,233.5 L280.7,232.7 L282.3,232.0 L284.0,231.3 L285.6,230.5 L287.3,229.8 L288.9,229.1 L290.6,228.3 L292.3,227.6 L294.0,226.9 L295.6,226.1 L297.3,225.4 L299.0,224.6 L300.7,223.9 L302.4,223.1 L304.1,222.4 L305.9,221.7 L307.6,220.9 L309.3,220.2" stroke="#36ade6" stroke-width="1.4" stroke-dasharray="1.4 1.35" fill="none"/>
<path d="M50.5,371.3 L50.6,371.2 L50.6,371.0 L50.6,370.8 L50.6,370.6 L50.6,370.4 L50.7,370.1 L50.7,369.9 L50.7,369.6 L50.8,369.3 L50.8,369.0 L50.9,368.7 L51.0,368.4 L51.0,368.0 L51.1,367.7 L51.2,367.4 L51.3,367.0 L51.4,366.6 L51.5,366.3 L51.6,365.9 L51.7,365.5 L51.8,365.1 L52.0,364.7 L52.1,364.3 L52.2,363.9 L52.4,363.5 L52.5,363.1 L52.7,362.6 L52.8,362.2 L53.0,361.8 L53.2,361.3 L53.3,360.8 L53.5,360.4 L53.7,359.9 L53.9,359.5 L54.1,359.0 L54.3,358.5 L54.5,358.0 L54.7,357.5 L55.0,357.0 L55.2,356.5 L55.4,356.0 L55.7,355.5 L55.9,355.0 L56.2,354.4 L56.4,353.9 L56.7,353.4 L56.9,352.8 L57.2,352.3 L57.5,351.7 L57.8,351.2 L58.1,350.6 L58.4,350.1 L58.7,349.5 L59.0,348.9 L59.3,348.3 L59.6,347.8 L60.0,347.2 L60.3,346.6 L60.6,346.0 L61.0,345.4 L61.3,344.8 L61.7,344.2 L62.0,343.5 L62.4,342.9 L62.8,342.3 L63.2,341.7 L63.5,341.0 L63.9,340.4 L64.3,339.8 L64.7,339.1 L65.1,338.5 L65.6,337.8 L66.0,337.1 L66.4,336.5 L66.8,335.8 L67.3,335.1 L67.7,334.5 L68.2,333.8 L68.6,333.1 L69.1,332.4 L69.5,331.7 L70.0,331.0 L70.5,330.3 L71.0,329.6 L71.5,328.9 L72.0,328.2 L72.5,327.5 L73.0,326.8 L73.5,326.0 L74.0,325.3 L74.5,324.6 L75.0,323.8 L75.6,323.1 L76.1,322.3 L76.7,321.6 L77.2,320.8 L77.8,320.1 L78.3,319.3 L78.9,318.6 L79.5,317.8 L80.1,317.0 L80.7,316.2 L81.3,315.5 L81.9,314.7 L82.5,313.9 L83.1,313.1 L83.7,312.3 L84.3,311.5 L84.9,310.7 L85.6,309.9 L86.2,309.1 L86.9,308.3 L87.5,307.4 L88.2,306.6 L88.8,305.8 L89.5,305.0 L90.2,304.1 L90.8,303.3 L91.5,302.4 L92.2,301.6 L92.9,300.7 L93.6,299.9 L94.3,299.0 L95.1,298.2 L95.8,297.3 L96.5,296.4 L97.2,295.6 L98.0,294.7 L98.7,293.8 L99.5,292.9 L100.2,292.0 L101.0,291.2 L101.7,290.3 L102.5,289.4 L103.3,288.5 L104.1,287.6 L104.9,286.7 L105.7,285.7 L106.5,284.8 L107.3,283.9 L108.1,283.0 L108.9,282.1 L109.7,281.1 L110.6,280.2 L111.4,279.3 L112.2,278.3 L113.1,277.4 L113.9,276.4 L114.8,275.5 L115.7,274.5 L116.5,273.6 L117.4,272.6 L118.3,271.6 L119.2,270.7 L120.1,269.7 L121.0,268.7 L121.9,267.8 L122.8,266.8 L123.7,265.8 L124.6,264.8 L125.6,263.8 L126.5,262.8 L127.4,261.8 L128.4,260.8 L129.3,259.8 L130.3,258.8 L131.3,257.8 L132.2,256.8 L133.2,255.7 L134.2,254.7 L135.2,253.7 L136.2,252.7 L137.2,251.6 L138.2,250.6 L139.2,249.5 L140.2,248.5 L141.2,247.4 L142.3,246.4 L143.3,245.3 L144.3,244.3 L145.4,243.2 L146.4,242.2 L147.5,241.1 L148.5,240.0 L149.6,238.9 L150.7,237.9 L151.8,236.8 L152.8,235.7 L153.9,234.6 L155.0,233.5 L156.1,232.4 L157.2,231.3 L158.4,230.2 L159.5,229.1 L160.6,228.0 L161.7,226.9 L162.9,225.8 L164.0,224.7 L165.2,223.5 L166.3,222.4 L167.5,221.3 L168.6,220.1 L169.8,219.0 L171.0,217.9 L172.2,216.7 L173.4,215.6 L174.6,214.4 L175.8,213.3 L177.0,212.1 L178.2,211.0 L179.4,209.8 L179.9,209.4" stroke="#36ade6" stroke-width="1.4" fill="none"/>
<line x1="50.55" y1="4.03" x2="50.55" y2="172.88" stroke="#555555" stroke-width="0.95"/>
<line x1="42.25" y1="172.40" x2="309.78" y2="172.40" stroke="#555555" stroke-width="0.95"/>
<text x="38.90" y="175.95" class="t" text-anchor="end">0</text>
<line x1="42.25" y1="144.42" x2="50.55" y2="144.42" stroke="#555555" stroke-width="0.95"/>
<text x="38.90" y="147.97" class="t" text-anchor="end">5</text>
<line x1="42.25" y1="116.43" x2="50.55" y2="116.43" stroke="#555555" stroke-width="0.95"/>
<text x="38.90" y="119.98" class="t" text-anchor="end">10</text>
<line x1="42.25" y1="88.45" x2="50.55" y2="88.45" stroke="#555555" stroke-width="0.95"/>
<text x="38.90" y="92.00" class="t" text-anchor="end">15</text>
<line x1="42.25" y1="60.47" x2="50.55" y2="60.47" stroke="#555555" stroke-width="0.95"/>
<text x="38.90" y="64.02" class="t" text-anchor="end">20</text>
<line x1="42.25" y1="32.48" x2="50.55" y2="32.48" stroke="#555555" stroke-width="0.95"/>
<text x="38.90" y="36.03" class="t" text-anchor="end">25</text>
<line x1="42.25" y1="4.50" x2="50.55" y2="4.50" stroke="#555555" stroke-width="0.95"/>
<text x="38.90" y="8.05" class="t" text-anchor="end">30</text>
<line x1="50.55" y1="172.40" x2="50.55" y2="180.50" stroke="#555555" stroke-width="0.95"/>
<text x="50.55" y="194.90" class="t" text-anchor="middle">0</text>
<line x1="102.30" y1="172.40" x2="102.30" y2="180.50" stroke="#555555" stroke-width="0.95"/>
<text x="102.30" y="194.90" class="t" text-anchor="middle">50</text>
<line x1="154.05" y1="172.40" x2="154.05" y2="180.50" stroke="#555555" stroke-width="0.95"/>
<text x="154.05" y="194.90" class="t" text-anchor="middle">100</text>
<line x1="205.80" y1="172.40" x2="205.80" y2="180.50" stroke="#555555" stroke-width="0.95"/>
<text x="205.80" y="194.90" class="t" text-anchor="middle">150</text>
<line x1="257.55" y1="172.40" x2="257.55" y2="180.50" stroke="#555555" stroke-width="0.95"/>
<text x="257.55" y="194.90" class="t" text-anchor="middle">200</text>
<line x1="309.30" y1="172.40" x2="309.30" y2="180.50" stroke="#555555" stroke-width="0.95"/>
<text x="309.30" y="194.90" class="t" text-anchor="middle">250</text>
<text x="180.25" y="210.80" class="a" text-anchor="middle">Time [min]</text>
<text x="56.60" y="14.20" class="b">a</text>
<text x="0.00" y="0.00" class="a" text-anchor="middle" transform="translate(9.3,87.7) rotate(-90)">Mobility Diameter [nm]</text>
<line x1="50.55" y1="208.88" x2="50.55" y2="377.83" stroke="#555555" stroke-width="0.95"/>
<line x1="50.55" y1="377.35" x2="309.78" y2="377.35" stroke="#555555" stroke-width="0.95"/>
<line x1="42.25" y1="338.40" x2="50.55" y2="338.40" stroke="#555555" stroke-width="0.95"/>
<text x="38.90" y="341.95" class="t" text-anchor="end">2</text>
<line x1="42.25" y1="295.38" x2="50.55" y2="295.38" stroke="#555555" stroke-width="0.95"/>
<text x="38.90" y="298.93" class="t" text-anchor="end">3</text>
<line x1="42.25" y1="252.37" x2="50.55" y2="252.37" stroke="#555555" stroke-width="0.95"/>
<text x="38.90" y="255.92" class="t" text-anchor="end">4</text>
<line x1="42.25" y1="209.35" x2="50.55" y2="209.35" stroke="#555555" stroke-width="0.95"/>
<text x="38.90" y="212.90" class="t" text-anchor="end">5</text>
<line x1="50.55" y1="377.35" x2="50.55" y2="385.45" stroke="#555555" stroke-width="0.95"/>
<text x="50.55" y="399.85" class="t" text-anchor="middle">0</text>
<line x1="93.67" y1="377.35" x2="93.67" y2="385.45" stroke="#555555" stroke-width="0.95"/>
<text x="93.67" y="399.85" class="t" text-anchor="middle">10</text>
<line x1="136.80" y1="377.35" x2="136.80" y2="385.45" stroke="#555555" stroke-width="0.95"/>
<text x="136.80" y="399.85" class="t" text-anchor="middle">20</text>
<line x1="179.93" y1="377.35" x2="179.93" y2="385.45" stroke="#555555" stroke-width="0.95"/>
<text x="179.93" y="399.85" class="t" text-anchor="middle">30</text>
<line x1="223.05" y1="377.35" x2="223.05" y2="385.45" stroke="#555555" stroke-width="0.95"/>
<text x="223.05" y="399.85" class="t" text-anchor="middle">40</text>
<line x1="266.18" y1="377.35" x2="266.18" y2="385.45" stroke="#555555" stroke-width="0.95"/>
<text x="266.18" y="399.85" class="t" text-anchor="middle">50</text>
<line x1="309.30" y1="377.35" x2="309.30" y2="385.45" stroke="#555555" stroke-width="0.95"/>
<text x="309.30" y="399.85" class="t" text-anchor="middle">60</text>
<text x="177.80" y="418.50" class="a" text-anchor="middle">Time [min]</text>
<text x="56.60" y="222.20" class="b">b</text>
<text x="0.00" y="0.00" class="a" text-anchor="middle" transform="translate(9.3,292.7) rotate(-90)">Mobility Diameter [nm]</text>
<line x1="379.81" y1="127.99" x2="379.81" y2="157.46" stroke="#6a0dd4" stroke-width="0.75"/>
<line x1="376.06" y1="127.99" x2="383.56" y2="127.99" stroke="#6a0dd4" stroke-width="0.8"/>
<line x1="376.06" y1="157.46" x2="383.56" y2="157.46" stroke="#6a0dd4" stroke-width="0.8"/>
<line x1="464.06" y1="120.52" x2="464.06" y2="154.85" stroke="#6a0dd4" stroke-width="0.75"/>
<line x1="460.31" y1="120.52" x2="467.81" y2="120.52" stroke="#6a0dd4" stroke-width="0.8"/>
<line x1="460.31" y1="154.85" x2="467.81" y2="154.85" stroke="#6a0dd4" stroke-width="0.8"/>
<line x1="529.42" y1="96.34" x2="529.42" y2="147.05" stroke="#6a0dd4" stroke-width="0.75"/>
<line x1="525.67" y1="96.34" x2="533.17" y2="96.34" stroke="#6a0dd4" stroke-width="0.8"/>
<line x1="525.67" y1="147.05" x2="533.17" y2="147.05" stroke="#6a0dd4" stroke-width="0.8"/>
<path d="M366.3,151.7 L368.5,151.8 L370.7,151.9 L372.8,151.9 L375.0,152.0 L377.2,152.1 L379.4,152.1 L381.5,152.2 L383.7,152.3 L385.9,152.3 L388.0,152.4 L390.2,152.4 L392.4,152.5 L394.6,152.5 L396.7,152.6 L398.9,152.7 L401.1,152.7 L403.2,152.8 L405.4,152.8 L407.6,152.9 L409.7,152.9 L411.9,153.0 L414.1,153.0 L416.3,153.0 L418.4,153.1 L420.6,153.1 L422.8,153.2 L424.9,153.2 L427.1,153.3 L429.3,153.3 L431.4,153.3 L433.6,153.4 L435.8,153.4 L438.0,153.4 L440.1,153.5 L442.3,153.5 L444.5,153.6 L446.6,153.6 L448.8,153.6 L451.0,153.7 L453.1,153.7 L455.3,153.7 L457.5,153.8 L459.7,153.8 L461.8,153.8 L464.0,153.9 L466.2,153.9 L468.3,153.9 L470.5,153.9 L472.7,154.0 L474.9,154.0 L477.0,154.0 L479.2,154.1 L481.4,154.1 L483.5,154.1 L485.7,154.1 L487.9,154.2 L490.0,154.2 L492.2,154.2 L494.4,154.2 L496.6,154.3 L498.7,154.3 L500.9,154.3 L503.1,154.4 L505.2,154.4 L507.4,154.4 L509.6,154.4 L511.7,154.5 L513.9,154.5 L516.1,154.5 L518.3,154.6 L520.4,154.6 L522.6,154.6 L524.8,154.7 L526.9,154.7 L529.1,154.8 L531.3,154.8 L533.4,154.9 L535.6,154.9 L537.8,155.0 L540.0,155.0 L542.1,155.0 L544.3,155.1 L546.5,155.1 L548.6,155.2 L550.8,155.2 L553.0,155.2 L555.2,155.3 L557.3,155.3 L559.5,155.3 L561.7,155.4 L563.8,155.4 L566.0,155.4 L568.2,155.5 L570.3,155.5 L572.5,155.5 L574.7,155.6 L576.9,155.6 L579.0,155.6 L581.2,155.7 L583.4,155.7 L585.5,155.7 L587.7,155.8 L589.9,155.8 L592.0,155.8 L594.2,155.8 L596.4,155.9 L598.6,155.9 L600.7,155.9 L602.9,156.0 L605.1,156.0 L607.2,156.0 L609.4,156.0 L611.6,156.1 L613.7,156.1 L615.9,156.1 L618.1,156.1 L620.3,156.2 L622.4,156.2 L624.6,156.2" stroke="#e040c4" stroke-width="1.4" stroke-dasharray="3 2.5" fill="none"/>
<path d="M366.3,148.1 L368.5,147.9 L370.7,147.7 L372.8,147.6 L375.0,147.4 L377.2,147.2 L379.4,147.0 L381.5,146.8 L383.7,146.6 L385.9,146.4 L388.0,146.2 L390.2,146.0 L392.4,145.8 L394.6,145.6 L396.7,145.4 L398.9,145.1 L401.1,144.9 L403.2,144.7 L405.4,144.4 L407.6,144.2 L409.7,144.0 L411.9,143.7 L414.1,143.4 L416.3,143.2 L418.4,142.9 L420.6,142.6 L422.8,142.4 L424.9,142.1 L427.1,141.8 L429.3,141.5 L431.4,141.2 L433.6,140.9 L435.8,140.5 L438.0,140.2 L440.1,139.8 L442.3,139.5 L444.5,139.1 L446.6,138.7 L448.8,138.3 L451.0,137.9 L453.1,137.4 L455.3,136.9 L457.5,136.5 L459.7,136.0 L461.8,135.5 L464.0,135.0 L466.2,134.5 L468.3,134.0 L470.5,133.6 L472.7,133.1 L474.9,132.7 L477.0,132.2 L479.2,131.8 L481.4,131.4 L483.5,130.9 L485.7,130.5 L487.9,130.0 L490.0,129.6 L492.2,129.2 L494.4,128.7 L496.6,128.3 L498.7,127.8 L500.9,127.4 L503.1,127.0 L505.2,126.5 L507.4,126.1 L509.6,125.6 L511.7,125.2 L513.9,124.8 L516.1,124.3 L518.3,123.9 L520.4,123.4 L522.6,122.9 L524.8,122.5 L526.9,122.0 L529.1,121.7 L531.3,121.3 L533.4,121.0 L535.6,120.7 L537.8,120.3 L540.0,120.0 L542.1,119.7 L544.3,119.5 L546.5,119.2 L548.6,118.9 L550.8,118.7 L553.0,118.4 L555.2,118.2 L557.3,118.0 L559.5,117.7 L561.7,117.5 L563.8,117.3 L566.0,117.0 L568.2,116.8 L570.3,116.6 L572.5,116.4 L574.7,116.2 L576.9,116.0 L579.0,115.8 L581.2,115.7 L583.4,115.5 L585.5,115.3 L587.7,115.2 L589.9,115.0 L592.0,114.8 L594.2,114.7 L596.4,114.5 L598.6,114.4 L600.7,114.3 L602.9,114.1 L605.1,114.0 L607.2,113.9 L609.4,113.7 L611.6,113.6 L613.7,113.5 L615.9,113.4 L618.1,113.3 L620.3,113.2 L622.4,113.1 L624.6,113.0" stroke="#757575" stroke-width="1.4" fill="none"/>
<path d="M366.3,91.8 L368.5,93.1 L370.7,94.4 L372.8,95.6 L375.0,96.8 L377.2,98.0 L379.4,99.2 L381.5,100.4 L383.7,101.5 L385.9,102.6 L388.0,103.6 L390.2,104.7 L392.4,105.7 L394.6,106.7 L396.7,107.7 L398.9,108.7 L401.1,109.6 L403.2,110.6 L405.4,111.5 L407.6,112.4 L409.7,113.2 L411.9,114.1 L414.1,114.9 L416.3,115.7 L418.4,116.5 L420.6,117.3 L422.8,118.1 L424.9,118.8 L427.1,119.5 L429.3,120.3 L431.4,121.0 L433.6,121.7 L435.8,122.3 L438.0,123.0 L440.1,123.6 L442.3,124.3 L444.5,124.9 L446.6,125.5 L448.8,126.1 L451.0,126.6 L453.1,127.2 L455.3,127.8 L457.5,128.3 L459.7,128.8 L461.8,129.4 L464.0,129.9 L466.2,130.4 L468.3,130.8 L470.5,131.3 L472.7,131.8 L474.9,132.2 L477.0,132.7 L479.2,133.1 L481.4,133.6 L483.5,134.0 L485.7,134.4 L487.9,134.8 L490.0,135.2 L492.2,135.6 L494.4,135.9 L496.6,136.3 L498.7,136.7 L500.9,137.0 L503.1,137.4 L505.2,137.7 L507.4,138.0 L509.6,138.4 L511.7,138.7 L513.9,139.0 L516.1,139.3 L518.3,139.6 L520.4,139.9 L522.6,140.2 L524.8,140.5 L526.9,140.7 L529.1,141.0 L531.3,141.3 L533.4,141.5 L535.6,141.8 L537.8,142.0 L540.0,142.2 L542.1,142.5 L544.3,142.7 L546.5,142.9 L548.6,143.2 L550.8,143.4 L553.0,143.6 L555.2,143.8 L557.3,144.0 L559.5,144.2 L561.7,144.4 L563.8,144.6 L566.0,144.8 L568.2,144.9 L570.3,145.1 L572.5,145.3 L574.7,145.5 L576.9,145.6 L579.0,145.8 L581.2,146.0 L583.4,146.1 L585.5,146.3 L587.7,146.4 L589.9,146.6 L592.0,146.7 L594.2,146.8 L596.4,147.0 L598.6,147.1 L600.7,147.3 L602.9,147.4 L605.1,147.5 L607.2,147.6 L609.4,147.7 L611.6,147.9 L613.7,148.0 L615.9,148.1 L618.1,148.2 L620.3,148.3 L622.4,148.4 L624.6,148.5" stroke="#36ade6" stroke-width="1.4" stroke-dasharray="1.4 1.35" fill="none"/>
<path d="M366.3,46.6 L368.5,50.5 L370.7,54.1 L372.8,57.4 L375.0,60.4 L377.2,63.3 L379.4,65.9 L381.5,68.4 L383.7,70.6 L385.9,72.8 L388.0,74.8 L390.2,76.7 L392.4,78.5 L394.6,80.3 L396.7,81.9 L398.9,83.5 L401.1,85.0 L403.2,86.4 L405.4,87.7 L407.6,89.1 L409.7,90.3 L411.9,91.6 L414.1,92.7 L416.3,93.9 L418.4,95.0 L420.6,96.0 L422.8,97.1 L424.9,98.1 L427.1,99.0 L429.3,100.0 L431.4,100.9 L433.6,101.8 L435.8,102.6 L438.0,103.5 L440.1,104.3 L442.3,105.1 L444.5,105.9 L446.6,106.6 L448.8,107.4 L451.0,108.1 L453.1,108.8 L455.3,109.5 L457.5,110.1 L459.7,110.8 L461.8,111.4 L464.0,112.0 L466.2,112.6 L468.3,113.2 L470.5,113.8 L472.7,114.3 L474.9,114.9 L477.0,115.4 L479.2,115.9 L481.4,116.4 L483.5,116.9 L485.7,117.4 L487.9,117.9 L490.0,118.3 L492.2,118.8 L494.4,119.2 L496.6,119.6 L498.7,120.0 L500.9,120.4 L503.1,120.8 L505.2,121.2 L507.4,121.6 L509.6,122.0 L511.7,122.3 L513.9,122.7 L516.1,123.0 L518.3,123.3 L520.4,123.7 L522.6,124.0 L524.8,124.3 L526.9,124.6 L529.1,124.9 L531.3,125.2 L533.4,125.5 L535.6,125.7 L537.8,126.0 L540.0,126.2 L542.1,126.5 L544.3,126.8 L546.5,127.0 L548.6,127.2 L550.8,127.5 L553.0,127.7 L555.2,127.9 L557.3,128.1 L559.5,128.3 L561.7,128.5 L563.8,128.7 L566.0,128.9 L568.2,129.1 L570.3,129.3 L572.5,129.5 L574.7,129.6 L576.9,129.8 L579.0,130.0 L581.2,130.2 L583.4,130.3 L585.5,130.5 L587.7,130.6 L589.9,130.8 L592.0,130.9 L594.2,131.1 L596.4,131.2 L598.6,131.3 L600.7,131.5 L602.9,131.6 L605.1,131.7 L607.2,131.8 L609.4,131.9 L611.6,132.1 L613.7,132.2 L615.9,132.3 L618.1,132.4 L620.3,132.5 L622.4,132.6 L624.6,132.7" stroke="#36ade6" stroke-width="1.4" fill="none"/>
<circle cx="379.81" cy="143.10" r="2.4" fill="#6a0dd4"/>
<circle cx="464.06" cy="137.64" r="2.4" fill="#6a0dd4"/>
<circle cx="529.42" cy="121.78" r="2.4" fill="#6a0dd4"/>
<line x1="366.40" y1="172.40" x2="632.90" y2="172.40" stroke="#555555" stroke-width="0.95"/>
<line x1="624.60" y1="4.03" x2="624.60" y2="180.50" stroke="#555555" stroke-width="0.95"/>
<text x="638.00" y="175.95" class="t">0</text>
<line x1="624.60" y1="130.43" x2="632.90" y2="130.43" stroke="#555555" stroke-width="0.95"/>
<text x="638.00" y="133.98" class="t">5</text>
<line x1="624.60" y1="88.45" x2="632.90" y2="88.45" stroke="#555555" stroke-width="0.95"/>
<text x="638.00" y="92.00" class="t">10</text>
<line x1="624.60" y1="46.48" x2="632.90" y2="46.48" stroke="#555555" stroke-width="0.95"/>
<text x="638.00" y="50.03" class="t">15</text>
<line x1="624.60" y1="4.50" x2="632.90" y2="4.50" stroke="#555555" stroke-width="0.95"/>
<text x="638.00" y="8.05" class="t">20</text>
<line x1="405.50" y1="172.40" x2="405.50" y2="176.50" stroke="#555555" stroke-width="0.85"/>
<text x="405.70" y="184.70" class="s" text-anchor="middle">2</text>
<line x1="460.70" y1="172.40" x2="460.70" y2="176.50" stroke="#555555" stroke-width="0.85"/>
<text x="460.90" y="184.70" class="s" text-anchor="middle">3</text>
<line x1="499.86" y1="172.40" x2="499.86" y2="176.50" stroke="#555555" stroke-width="0.85"/>
<text x="500.06" y="184.70" class="s" text-anchor="middle">4</text>
<line x1="530.24" y1="172.40" x2="530.24" y2="176.50" stroke="#555555" stroke-width="0.85"/>
<text x="530.44" y="184.70" class="s" text-anchor="middle">5</text>
<line x1="555.06" y1="172.40" x2="555.06" y2="176.50" stroke="#555555" stroke-width="0.85"/>
<text x="555.26" y="184.70" class="s" text-anchor="middle">6</text>
<line x1="576.04" y1="172.40" x2="576.04" y2="176.50" stroke="#555555" stroke-width="0.85"/>
<text x="576.24" y="184.70" class="s" text-anchor="middle">7</text>
<line x1="594.22" y1="172.40" x2="594.22" y2="176.50" stroke="#555555" stroke-width="0.85"/>
<text x="594.42" y="184.70" class="s" text-anchor="middle">8</text>
<line x1="610.26" y1="172.40" x2="610.26" y2="176.50" stroke="#555555" stroke-width="0.85"/>
<text x="610.46" y="184.70" class="s" text-anchor="middle">9</text>
<text x="625.40" y="194.10" class="t" text-anchor="middle">10</text>
<text x="495.50" y="211.30" class="a" text-anchor="middle" style="font-size:11.2px">Mobility Diameter [nm]</text>
<text class="a" style="font-size:11.2px" transform="translate(671.5,36.1) rotate(90)">Growth Rate [nm h<tspan dy="-8" dx="0.6" font-size="7">-1</tspan><tspan dy="8" dx="0.9">]</tspan></text>
<text x="612.00" y="14.20" class="b">c</text>
<text x="456.00" y="11.30" class="l">volatility distribution modelling:</text>
<path d="M457.3,20.7 L478.7,20.7" stroke="#e040c4" stroke-width="1.4" stroke-dasharray="3.3 2.7" fill="none"/>
<text x="483.00" y="24.00" class="l">original HOM</text>
<path d="M457.3,33.6 L477.0,33.6" stroke="#36ade6" stroke-width="1.4" stroke-dasharray="1.4 1.64" fill="none"/>
<text x="483.00" y="36.60" class="l">original HOM, no Kelvin</text>
<path d="M457.3,46.0 L478.7,46.0" stroke="#757575" stroke-width="1.4" fill="none"/>
<text x="483.00" y="49.30" class="l">modified HOM</text>
<path d="M457.3,58.6 L478.7,58.6" stroke="#36ade6" stroke-width="1.4" fill="none"/>
<text x="483.00" y="61.90" class="l">modified HOM, no Kelvin</text>
<circle cx="467.9" cy="83.7" r="3.4" fill="#6a0dd4"/>
<text x="483.00" y="87.10" class="l">measured growth rate</text>
<text x="381.10" y="267.20" class="l">volatility distribution modelling</text>
<path d="M382.8,276.5 L404.0,276.5" stroke="#e040c4" stroke-width="1.4" stroke-dasharray="3.3 2.7" fill="none"/>
<text x="408.40" y="279.80" class="l">original HOM</text>
<path d="M382.8,289.5 L402.4,289.5" stroke="#36ade6" stroke-width="1.4" stroke-dasharray="1.4 1.64" fill="none"/>
<text x="408.40" y="292.50" class="l">original HOM, no Kelvin</text>
<path d="M382.8,301.8 L404.0,301.8" stroke="#757575" stroke-width="1.4" fill="none"/>
<text x="408.40" y="305.10" class="l">modified HOM</text>
<path d="M382.8,314.5 L404.0,314.5" stroke="#36ade6" stroke-width="1.4" fill="none"/>
<text x="408.40" y="317.80" class="l">modified HOM, no Kelvin</text>
<circle cx="393.3" cy="339.5" r="3.3" fill="#141414"/>
<text x="408.40" y="343.10" class="l">measured mobility diameter</text>
</svg>
</body></html>
